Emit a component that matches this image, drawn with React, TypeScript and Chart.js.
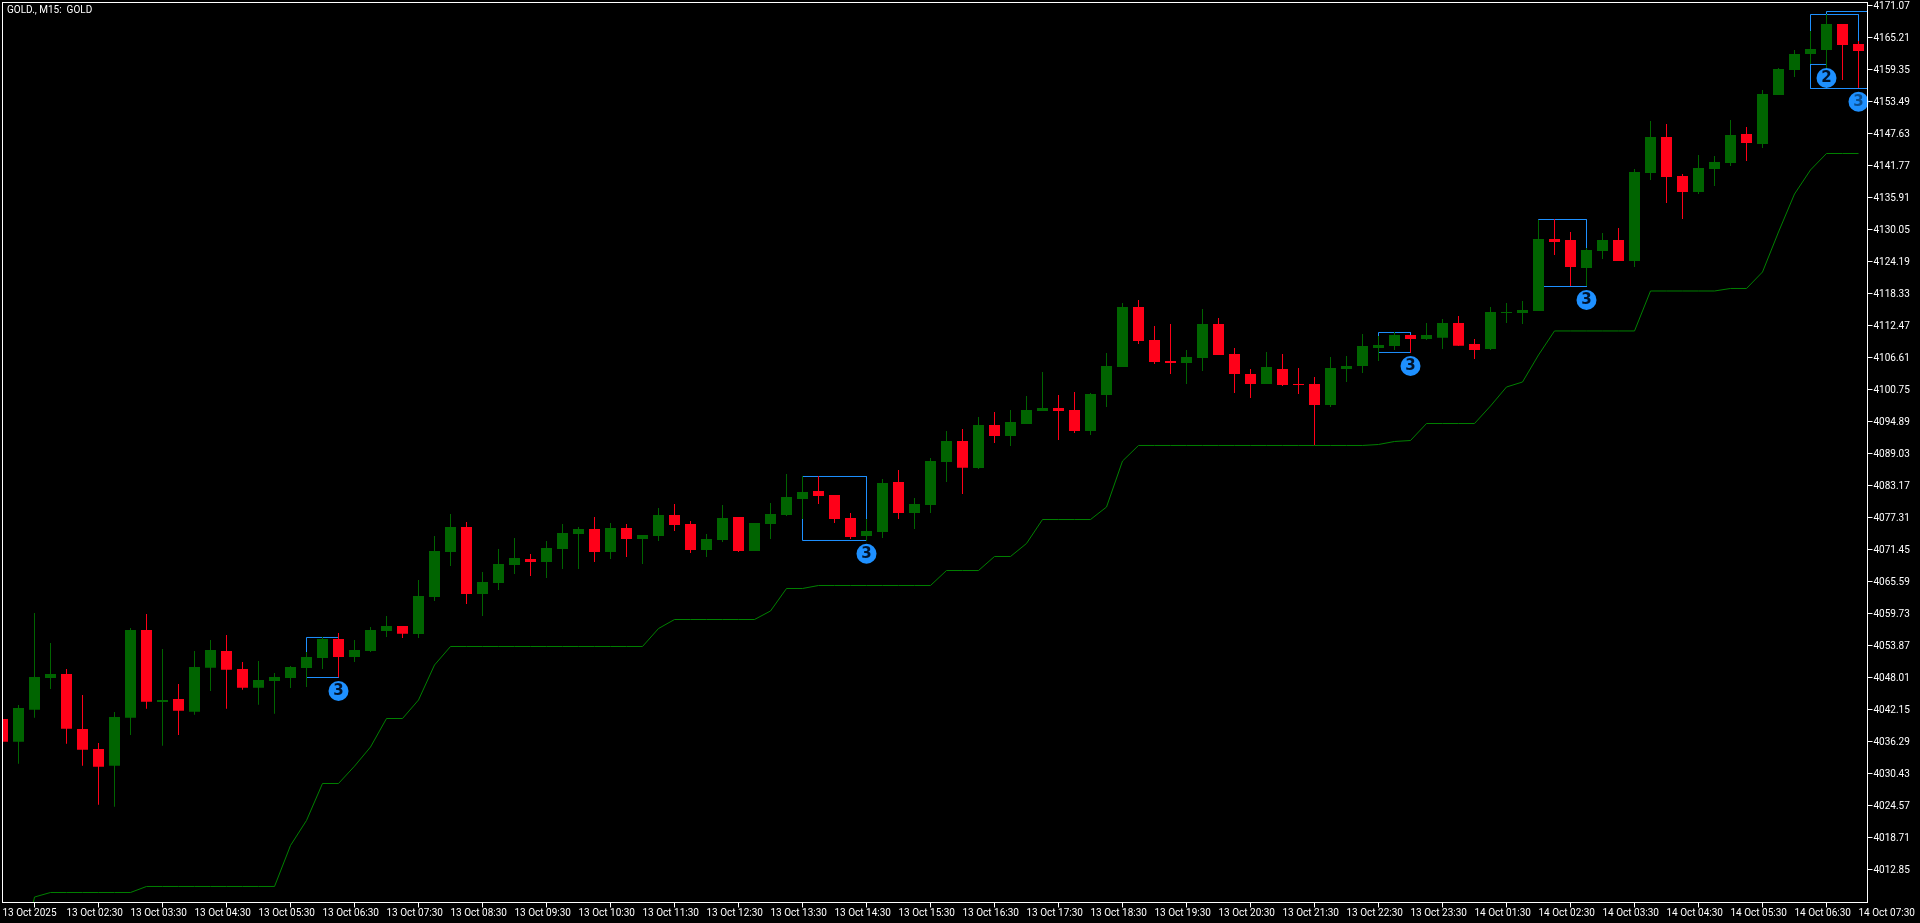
import React, { useEffect, useRef } from "react";
import { Chart, registerables } from "chart.js";

Chart.register(...registerables);

const opens = [4040.41,4036.25,4042.11,4047.92,4048.65,4038.58,4034.92,4031.86,4040.65,4056.71,4043.52,4044.07,4041.75,4049.80,4052.86,4049.56,4046.14,4047.37,4047.92,4049.75,4051.58,4055.06,4051.76,4052.86,4056.52,4057.44,4055.97,4062.75,4070.99,4075.57,4063.30,4065.31,4068.60,4069.71,4069.16,4071.54,4074.29,4075.20,4070.99,4075.38,4073.37,4073.92,4077.77,4076.12,4071.35,4073.19,4077.40,4071.17,4076.12,4077.77,4080.70,4082.16,4081.43,4077.22,4073.92,4074.65,4083.81,4078.13,4079.59,4087.47,4091.32,4086.37,4094.25,4092.24,4094.43,4096.81,4097.36,4096.99,4093.15,4099.74,4104.87,4115.86,4109.81,4105.97,4105.60,4106.52,4112.75,4107.25,4103.59,4101.76,4104.50,4101.76,4101.76,4097.91,4104.50,4105.05,4108.35,4108.72,4110.73,4110.00,4110.24,4112.93,4109.08,4108.17,4114.76,4114.76,4115.12,4128.31,4128.12,4123.00,4126.11,4128.12,4124.28,4140.40,4146.99,4139.85,4136.92,4141.13,4142.23,4147.54,4145.71,4154.68,4159.26,4162.19,4162.92,4167.68,4164.02];
const highs = [4040.41,4042.97,4059.82,4054.33,4049.56,4044.80,4036.02,4041.69,4057.07,4059.64,4053.23,4046.82,4052.86,4054.87,4055.79,4050.85,4051.03,4048.83,4050.11,4052.68,4055.43,4056.16,4054.87,4057.25,4059.27,4057.44,4065.86,4073.92,4077.95,4076.48,4067.33,4071.54,4073.55,4070.62,4073.00,4076.12,4075.57,4077.40,4076.30,4076.12,4074.10,4079.05,4079.78,4076.67,4074.29,4079.59,4077.40,4076.30,4079.96,4085.28,4084.91,4084.91,4081.43,4078.13,4077.03,4084.36,4086.00,4080.88,4088.20,4093.15,4093.52,4095.71,4096.63,4096.99,4099.56,4103.95,4099.74,4100.29,4100.11,4107.43,4116.59,4117.14,4112.38,4112.75,4107.98,4115.49,4113.84,4108.35,4104.50,4107.62,4107.25,4104.69,4103.04,4106.70,4106.89,4110.91,4110.54,4111.28,4110.73,4112.93,4113.66,4114.21,4110.00,4115.86,4116.59,4116.96,4131.79,4131.97,4129.59,4126.66,4129.41,4130.33,4141.13,4149.92,4149.37,4140.21,4143.69,4143.51,4150.10,4148.82,4155.60,4159.63,4162.92,4166.40,4169.52,4167.68,4164.57];
const lows = [4036.25,4032.22,4040.65,4045.90,4035.89,4031.86,4024.72,4024.35,4037.48,4042.30,4035.52,4037.48,4041.20,4045.54,4042.30,4045.77,4043.03,4041.38,4046.09,4046.27,4049.56,4048.05,4050.85,4052.68,4055.43,4055.24,4055.24,4062.02,4068.42,4061.47,4059.27,4064.03,4066.96,4066.60,4066.23,4067.88,4067.88,4069.16,4069.71,4070.07,4068.79,4073.00,4074.83,4070.80,4070.07,4072.82,4070.99,4071.17,4073.37,4077.58,4077.03,4079.78,4076.30,4073.37,4073.00,4073.55,4077.03,4075.20,4078.13,4083.81,4081.62,4086.19,4090.95,4090.40,4094.43,4096.81,4091.50,4092.78,4092.42,4097.54,4104.87,4109.08,4105.42,4103.59,4101.76,4104.14,4107.07,4100.11,4099.19,4101.76,4101.39,4099.93,4090.59,4097.54,4102.13,4103.77,4105.97,4107.98,4107.49,4109.81,4108.17,4108.72,4106.34,4107.98,4112.93,4112.75,4115.12,4125.38,4119.70,4119.70,4124.64,4124.28,4123.18,4139.12,4134.90,4131.97,4136.55,4138.02,4141.68,4142.60,4144.98,4154.68,4157.98,4160.36,4159.63,4157.43,4155.97];
const closes = [4036.25,4042.42,4048.10,4048.65,4038.63,4034.79,4031.68,4040.78,4056.71,4043.58,4043.89,4041.93,4049.93,4053.04,4049.44,4046.14,4047.55,4048.10,4049.93,4051.76,4055.06,4051.76,4053.04,4056.71,4057.44,4056.03,4062.93,4071.17,4075.57,4063.30,4065.50,4068.79,4069.89,4069.16,4071.72,4074.47,4075.20,4070.99,4075.38,4073.37,4074.10,4077.77,4075.94,4071.35,4073.37,4077.22,4071.17,4076.30,4077.95,4081.06,4081.98,4081.25,4077.03,4073.74,4074.83,4083.62,4078.13,4079.78,4087.65,4091.32,4086.43,4094.25,4092.24,4094.80,4096.99,4097.36,4096.81,4093.15,4099.93,4105.05,4115.86,4109.63,4105.78,4105.60,4106.70,4112.75,4107.07,4103.59,4101.76,4104.87,4101.58,4101.58,4097.91,4104.69,4105.05,4108.72,4108.90,4110.73,4110.00,4110.73,4112.93,4108.77,4107.98,4114.94,4114.94,4115.31,4128.31,4127.76,4123.18,4126.29,4128.12,4124.28,4140.58,4146.99,4139.66,4136.92,4141.31,4142.41,4147.36,4145.89,4154.87,4159.44,4162.19,4163.10,4167.68,4163.84,4162.74];
const trend: (number | null)[] = [null,3993.16,4007.81,4008.64,4008.64,4008.64,4008.64,4008.64,4008.64,4009.74,4009.74,4009.74,4009.74,4009.74,4009.74,4009.74,4009.74,4009.74,4017.25,4021.83,4028.60,4028.60,4031.77,4035.28,4040.50,4040.50,4043.89,4050.30,4053.69,4053.69,4053.69,4053.69,4053.69,4053.69,4053.69,4053.69,4053.69,4053.69,4053.69,4053.69,4053.69,4056.98,4058.63,4058.63,4058.63,4058.63,4058.63,4058.63,4060.19,4064.31,4064.31,4064.86,4064.86,4064.86,4064.86,4064.86,4064.86,4064.86,4064.86,4067.60,4067.60,4067.60,4070.17,4070.17,4072.55,4076.94,4076.94,4076.94,4076.94,4079.23,4087.65,4090.50,4090.50,4090.50,4090.50,4090.50,4090.50,4090.50,4090.50,4090.50,4090.50,4090.50,4090.50,4090.50,4090.50,4090.50,4090.68,4091.23,4091.41,4094.52,4094.52,4094.52,4094.52,4097.73,4101.21,4102.12,4107.07,4111.47,4111.47,4111.47,4111.47,4111.47,4111.47,4118.79,4118.79,4118.79,4118.79,4118.79,4119.25,4119.25,4122.27,4129.59,4136.55,4140.96,4143.97,4143.97,4143.97];

const xTickLabels = ["13 Oct 2025","13 Oct 02:30","13 Oct 03:30","13 Oct 04:30","13 Oct 05:30","13 Oct 06:30","13 Oct 07:30","13 Oct 08:30","13 Oct 09:30","13 Oct 10:30","13 Oct 11:30","13 Oct 12:30","13 Oct 13:30","13 Oct 14:30","13 Oct 15:30","13 Oct 16:30","13 Oct 17:30","13 Oct 18:30","13 Oct 19:30","13 Oct 20:30","13 Oct 21:30","13 Oct 22:30","13 Oct 23:30","14 Oct 01:30","14 Oct 02:30","14 Oct 03:30","14 Oct 04:30","14 Oct 05:30","14 Oct 06:30","14 Oct 07:30"];
const yTickValues = [4171.07,4165.21,4159.35,4153.49,4147.63,4141.77,4135.91,4130.05,4124.19,4118.33,4112.47,4106.61,4100.75,4094.89,4089.03,4083.17,4077.31,4071.45,4065.59,4059.73,4053.87,4048.01,4042.15,4036.29,4030.43,4024.57,4018.71,4012.85];

const boxStart = [19,50,86,96,113,113,114];
const boxEnd = [21,54,88,99,116,114,117];
const boxTop = [4055.34,4084.82,4111.19,4131.88,4169.42,4160.27,4169.97];
const boxBottom = [4048.01,4073.10,4107.53,4119.61,4155.87,4155.87,4155.87];

const markerBar = [21,54,88,99,114,116];
const markerPrice = [4045.54,4070.68,4105.05,4117.14,4157.79,4153.45];
const markerText = ["3","3","3","3","2","3"];
const markerInk = ["#00132B","#00132B","#00132B","#00132B","#00132B","#0B4E8F"];

const GREEN = "#006400";
const RED = "#FF0018";
const BLUE = "#1E90FF";
const LINE = "#008000";
const FONT_FAMILY = "Roboto, 'Liberation Sans', sans-serif";

const framePlugin = {
  id: "frame",
  afterDatasetsDraw(chart: any) {
    const { ctx, chartArea: a } = chart;
    ctx.save();
    ctx.strokeStyle = "#FFFFFF";
    ctx.lineWidth = 1;
    ctx.strokeRect(a.left, a.top, a.right - a.left, a.bottom - a.top);
    ctx.fillStyle = "#FFFFFF";
    ctx.font = `10px ${FONT_FAMILY}`;
    ctx.textBaseline = "middle";
    ctx.textAlign = "left";
    ctx.fillText("GOLD., M15:  GOLD", 7, 10);
    const idx = chart.data.datasets.findIndex((d: any) => d.label === "markers");
    const meta = chart.getDatasetMeta(idx);
    ctx.font = `bold 15px 'DejaVu Sans', sans-serif`;
    ctx.textAlign = "center";
    meta.data.forEach((pt: any, k: number) => {
      ctx.fillStyle = markerInk[k];
      ctx.fillText(markerText[k], pt.x, pt.y + 0.5);
    });
    ctx.restore();
  },
};

function zeroPadding(s: any) {
  s.paddingLeft = 0;
  s.paddingRight = 0;
  s.paddingTop = 0;
  s.paddingBottom = 0;
}

export default function App() {
  const ref = useRef<HTMLCanvasElement>(null);
  useEffect(() => {
    document.body.style.margin = "0";
    document.body.style.background = "#000";
    const bars = opens.map((_, i) => i);
    const colors = opens.map((o, i) => (closes[i] >= o ? GREEN : RED));
    const boxDatasets = boxStart.map((s, k) => ({
      type: "line" as const,
      label: `box${k}`,
      data: [
        { x: s, y: boxBottom[k] },
        { x: s, y: boxTop[k] },
        { x: boxEnd[k], y: boxTop[k] },
        { x: boxEnd[k], y: boxBottom[k] },
        { x: s, y: boxBottom[k] },
      ],
      borderColor: BLUE,
      borderWidth: 1,
      pointRadius: 0,
      tension: 0,
      order: 5,
    }));
    const chart = new Chart(ref.current!, {
      type: "bar",
      data: {
        datasets: [
          ...boxDatasets,
          {
            type: "line" as const,
            label: "trend",
            data: bars.map((i) => ({ x: i, y: trend[i] })),
            borderColor: LINE,
            borderWidth: 1,
            pointRadius: 0,
            tension: 0,
            spanGaps: false,
            order: 4,
          },
          {
            type: "bar" as const,
            label: "wicks",
            data: bars.map((i) => ({ x: i, y: [lows[i], highs[i]] })),
            backgroundColor: colors,
            barThickness: 1,
            inflateAmount: 0,
            grouped: false,
            order: 3,
          },
          {
            type: "bar" as const,
            label: "bodies",
            data: bars.map((i) => ({ x: i, y: [opens[i], closes[i]] })),
            backgroundColor: colors,
            barThickness: 11,
            inflateAmount: 0,
            grouped: false,
            minBarLength: 1,
            order: 2,
          },
          {
            type: "line" as const,
            label: "markers",
            data: markerBar.map((b, k) => ({ x: b, y: markerPrice[k] })),
            showLine: false,
            pointRadius: 10,
            pointBackgroundColor: BLUE,
            pointBorderWidth: 0,
            clip: false,
            order: 1,
          },
        ] as any,
      },
      options: {
        animation: false,
        responsive: false,
        devicePixelRatio: 1,
        events: [],
        layout: { autoPadding: false, padding: { left: 2.5, top: 2.5, right: 0, bottom: 0 } },
        plugins: { legend: { display: false }, tooltip: { enabled: false }, title: { display: false } },
        scales: {
          x: {
            type: "linear",
            min: 0,
            max: 116.5625,
            offset: false,
            afterBuildTicks: (s: any) => {
              s.ticks = xTickLabels.map((_, k) => ({ value: k * 4 }));
            },
            afterFit: (s: any) => {
              s.height = 20.5;
              zeroPadding(s);
            },
            grid: { drawOnChartArea: false, drawTicks: true, tickLength: 5, color: "#FFFFFF", tickColor: "#FFFFFF" },
            border: { display: true, color: "#FFFFFF", width: 1 },
            ticks: {
              autoSkip: false,
              maxRotation: 0,
              minRotation: 0,
              align: "start",
              padding: 0,
              color: "#FFFFFF",
              font: { family: FONT_FAMILY, size: 10 },
              callback: (_v: any, i: number) => xTickLabels[i],
            },
          },
          y: {
            type: "linear",
            position: "right",
            min: 4006.807,
            max: 4171.62,
            afterBuildTicks: (s: any) => {
              s.ticks = yTickValues.map((v) => ({ value: v }));
            },
            afterFit: (s: any) => {
              s.width = 52.5;
              zeroPadding(s);
            },
            grid: { drawOnChartArea: false, drawTicks: true, tickLength: 5, color: "#FFFFFF", tickColor: "#FFFFFF" },
            border: { display: true, color: "#FFFFFF", width: 1 },
            ticks: {
              autoSkip: false,
              padding: 1,
              labelOffset: 1,
              color: "#FFFFFF",
              font: { family: FONT_FAMILY, size: 10 },
              callback: (v: any) => Number(v).toFixed(2),
            },
          },
        },
      } as any,
      plugins: [framePlugin],
    });
    return () => chart.destroy();
  }, []);
  return (
    <div style={{ position: "fixed", left: 0, top: 0, width: 1920, height: 923, background: "#000" }}>
      <canvas ref={ref} width={1920} height={923} style={{ display: "block", background: "#000" }} />
    </div>
  );
}
